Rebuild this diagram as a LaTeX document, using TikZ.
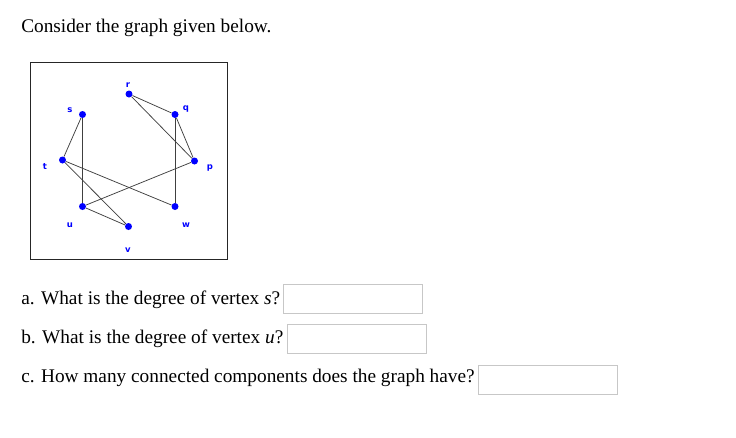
\documentclass[tikz,border=0pt]{standalone}
\usepackage{fontspec}
\setmainfont{Liberation Serif}
\newfontfamily\vlabelfont{DejaVu Sans}
\usepackage{tikz}
\usetikzlibrary{shapes,arrows}

\begin{document}
\begin{tikzpicture}[x=1pt,y=-1pt,line width=0.6pt]
\tikzstyle{vertex} = [circle, fill=blue, inner sep=0pt, minimum size=7pt]
\tikzstyle{vname} = [text=blue, font=\vlabelfont\bfseries\fontsize{8.5}{9}\selectfont, inner sep=0pt]
\tikzstyle{question} = [anchor=base west, inner sep=0pt, font=\fontsize{19.3}{22}\selectfont]
\tikzstyle{answer} = [rectangle, draw=black!22, line width=1pt, anchor=north west, minimum width=139pt, minimum height=29pt, inner sep=0pt]
\useasboundingbox (0,0) rectangle (736,437);

\node[question] (intro) at (21,32) {Consider the graph given below.};
\draw[black!85, line width=0.8pt] (30.5,62.5) rectangle (227,259);

% vertices
\node[vertex] (r) at (129,94) {};
\node[vertex] (q) at (175,114.5) {};
\node[vertex] (s) at (82.5,114.5) {};
\node[vertex] (t) at (62.5,160) {};
\node[vertex] (p) at (194.5,161) {};
\node[vertex] (u) at (82.5,206.5) {};
\node[vertex] (w) at (175,206.5) {};
\node[vertex] (v) at (128.5,226.5) {};

% vertex names
\node[vname] (rname) at (128,85) {r};
\node[vname] (qname) at (186,109) {q};
\node[vname] (sname) at (70,110) {s};
\node[vname] (tname) at (45,167) {t};
\node[vname] (pname) at (210,168) {p};
\node[vname] (uname) at (70,225) {u};
\node[vname] (wname) at (186,225) {w};
\node[vname] (vname) at (128,250) {v};

\path[draw=black!75, line width=0.75pt] (r) edge (q)
                         edge (p)
          (q) edge (p)
              edge (w)
          (s) edge (t)
              edge (u)
          (t) edge (w)
              edge (v)
          (u) edge (p)
              edge (v);

% questions
\node[question] (qa) at (21,304) {a. What is the degree of vertex \textit{s}?};
\node[answer] (ansa) at (282.5,283.5) {};
\node[question] (qb) at (21,343) {b. What is the degree of vertex \textit{u}?};
\node[answer] (ansb) at (286.5,324) {};
\node[question] (qc) at (21,382) {c. How many connected components does the graph have?};
\node[answer] (ansc) at (477.5,364.5) {};
\end{tikzpicture}
\end{document}
